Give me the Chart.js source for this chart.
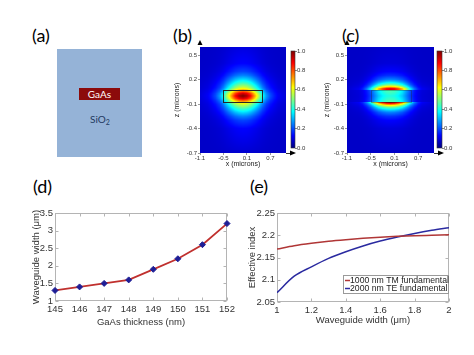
<!DOCTYPE html>
<html><head><meta charset="utf-8">
<script src="https://cdn.jsdelivr.net/npm/chart.js@4.4.1/dist/chart.umd.min.js"></script>
<style>
html,body{margin:0;padding:0;background:#fff}
#wrap{position:relative;width:474px;height:355px;overflow:hidden;background:#fff}
#wrap canvas{position:absolute}
.plab{position:absolute;font-family:Lato,"Open Sans",sans-serif;font-size:18px;line-height:18px;color:#000}
#sio2box{position:absolute;left:57px;top:49px;width:85px;height:108px;background:#95b3d7}
#gaas{position:absolute;left:79px;top:88px;width:41px;height:12px;background:#8c0b0b;color:#fff;font-family:Lato,sans-serif;font-size:10px;line-height:12px;text-align:center}
#sio2{position:absolute;left:80px;top:113px;width:40px;text-align:center;font-family:Lato,sans-serif;font-size:10px;line-height:12px;color:#1f3a60}
#sio2 sub{font-size:7px;vertical-align:-2px;line-height:0}
</style></head><body>
<div id="wrap">
<div class="plab" style="left:32px;top:26px">(a)</div>
<div class="plab" style="left:173px;top:26px">(b)</div>
<div class="plab" style="left:342px;top:26px">(c)</div>
<div class="plab" style="left:33px;top:177px">(d)</div>
<div class="plab" style="left:250px;top:177px">(e)</div>
<div id="sio2box"></div>
<div id="gaas">GaAs</div>
<div id="sio2">SiO<sub>2</sub></div>
<canvas id="cb" width="150" height="140" style="left:160px;top:30px"></canvas>
<canvas id="cbBar" width="30" height="120" style="left:280px;top:40px"></canvas>
<canvas id="cc" width="150" height="140" style="left:310px;top:30px"></canvas>
<canvas id="ccBar" width="30" height="120" style="left:426px;top:40px"></canvas>
<canvas id="cd" width="240" height="135" style="left:0px;top:200px"></canvas>
<canvas id="ce" width="234" height="135" style="left:240px;top:200px"></canvas>
</div>
<script>
const FONT = '"Liberation Sans", Arial, sans-serif';
Chart.defaults.font.family = FONT;
Chart.defaults.animation = false;

// ---- panel (d) data ----
const gaasThicknessNm = [145, 146, 147, 148, 149, 150, 151, 152];
const waveguideWidthUm = [1.3, 1.4, 1.5, 1.6, 1.9, 2.2, 2.6, 3.2];
const dTicksX = [145, 146, 147, 148, 149, 150, 151, 152];
const dTicksY = [1, 1.5, 2, 2.5, 3, 3.5];

// ---- panel (e) data ----
const wgWidthUm = [1.0, 1.1, 1.2, 1.3, 1.4, 1.5, 1.6, 1.7, 1.8, 1.9, 2.0];
const neffTM1000 = [2.169, 2.1765, 2.182, 2.1865, 2.19, 2.193, 2.1955, 2.1975, 2.199, 2.2, 2.201];
const neffTE2000 = [2.071, 2.108, 2.129, 2.148, 2.163, 2.176, 2.187, 2.196, 2.204, 2.211, 2.217];
const eTicksX = [1, 1.2, 1.4, 1.6, 1.8, 2];
const eTicksY = [2.05, 2.1, 2.15, 2.2, 2.25];

// ---- panels (b),(c) mode maps ----
const modeTicksX = [-1.1, -0.5, 0.1, 0.7];
const modeTicksZ = [-0.7, -0.4, -0.1, 0.2, 0.5];
const colorbarTicks = [0, 0.2, 0.4, 0.6, 0.8, 1];
const guideEdgesX = [-0.5, 0.5];
const guideEdgesZ = [-0.075, 0.075];
// intensity profiles: distance from centre (microns) -> normalised value
const teDistX = [0, 0.1, 0.2, 0.25, 0.3, 0.4, 0.5, 0.6, 0.7, 0.8, 0.9, 1.1];
const teProfX = [1, 0.96, 0.86, 0.78, 0.7, 0.53, 0.35, 0.22, 0.14, 0.09, 0.05, 0.02];
const teDistZ = [0, 0.03, 0.055, 0.075, 0.1, 0.15, 0.2, 0.25, 0.3, 0.4, 0.7];
const teProfZ = [1, 0.92, 0.78, 0.68, 0.56, 0.42, 0.3, 0.2, 0.13, 0.06, 0.01];
const tmDistX = [0, 0.1, 0.2, 0.3, 0.4, 0.5, 0.6, 0.7, 0.8, 1.1];
const tmProfX = [1, 0.97, 0.88, 0.75, 0.55, 0.35, 0.2, 0.1, 0.05, 0.01];
const tmDistZ = [0, 0.07, 0.075, 0.08, 0.1, 0.12, 0.14, 0.17, 0.2, 0.25, 0.3, 0.4, 0.7];
const tmProfZ = [0.36, 0.42, 0.6, 1, 0.78, 0.58, 0.44, 0.3, 0.2, 0.11, 0.06, 0.02, 0];
const fieldFloor = 0.07;

function lerpProfile(ds, ps, d) {
  d = Math.abs(d);
  for (let i = 1; i < ds.length; i++) {
    if (d <= ds[i]) {
      const t = (d - ds[i - 1]) / (ds[i] - ds[i - 1]);
      return ps[i - 1] + t * (ps[i] - ps[i - 1]);
    }
  }
  return ps[ps.length - 1];
}
function jet(v) {
  const c = q => Math.max(0, Math.min(1, q));
  return [c(1.5 - Math.abs(4 * v - 3)), c(1.5 - Math.abs(4 * v - 2)), c(1.5 - Math.abs(4 * v - 1))].map(q => Math.round(q * 255));
}

function fieldPlugin(dx, px, dz, pz, outlineAlpha) {
  return {
    id: 'field',
    beforeDatasetsDraw(chart) {
      const {ctx, chartArea: a, scales: {x, y}} = chart;
      const L = Math.round(a.left), T = Math.round(a.top);
      const W = Math.round(a.right) - L, H = Math.round(a.bottom) - T;
      const off = document.createElement('canvas');
      off.width = W; off.height = H;
      const octx = off.getContext('2d');
      const img = octx.createImageData(W, H);
      for (let j = 0; j < H; j++) {
        const fz = lerpProfile(dz, pz, y.getValueForPixel(T + j + 0.5));
        for (let i = 0; i < W; i++) {
          const fx = lerpProfile(dx, px, x.getValueForPixel(L + i + 0.5));
          const [r, g, b] = jet(fieldFloor + (1 - fieldFloor) * fx * fz);
          const k = 4 * (j * W + i);
          img.data[k] = r; img.data[k + 1] = g; img.data[k + 2] = b; img.data[k + 3] = 255;
        }
      }
      octx.putImageData(img, 0, 0);
      ctx.drawImage(off, L, T);
    },
    afterDraw(chart) {
      const {ctx, chartArea: a, scales: {x, y}} = chart;
      ctx.save();
      // waveguide outline
      const gx0 = x.getPixelForValue(guideEdgesX[0]), gx1 = x.getPixelForValue(guideEdgesX[1]);
      const gz0 = y.getPixelForValue(guideEdgesZ[1]), gz1 = y.getPixelForValue(guideEdgesZ[0]);
      ctx.globalAlpha = outlineAlpha;
      ctx.strokeStyle = '#262626';
      ctx.lineWidth = 1;
      ctx.strokeRect(Math.round(gx0) + 0.5, Math.round(gz0) + 0.5, Math.round(gx1 - gx0), Math.round(gz1 - gz0));
      ctx.globalAlpha = 1;
      // axis arrows
      ctx.fillStyle = '#000';
      ctx.strokeStyle = '#000';
      const L = Math.round(a.left), B = Math.round(a.bottom), R = Math.round(a.right), T = Math.round(a.top);
      ctx.beginPath(); ctx.moveTo(L, T - 7); ctx.lineTo(L - 2.5, T - 2); ctx.lineTo(L + 2.5, T - 2); ctx.closePath(); ctx.fill();
      ctx.beginPath(); ctx.moveTo(R, B + 0.5); ctx.lineTo(R + 5, B + 0.5); ctx.lineWidth = 0.8; ctx.stroke();
      ctx.beginPath(); ctx.moveTo(R + 10, B); ctx.lineTo(R + 4, B - 2.5); ctx.lineTo(R + 4, B + 2.5); ctx.closePath(); ctx.fill();
      ctx.restore();
    }
  };
}

function modeMap(id, yAxisW, titlePad, rightPad, plugin) {
  return new Chart(document.getElementById(id), {
    type: 'scatter',
    data: {datasets: []},
    options: {
      responsive: false, animation: false, events: [],
      layout: {padding: {left: 0, top: 17, right: rightPad, bottom: 0}},
      plugins: {legend: {display: false}, tooltip: {enabled: false}},
      scales: {
        x: {
          type: 'linear', min: -1.1, max: 1.1,
          afterBuildTicks: s => { s.ticks = modeTicksX.map(v => ({value: v})); },
          afterFit: s => { s.height = 17; },
          grid: {display: true, drawOnChartArea: false, drawTicks: true, tickLength: 2, color: '#555', lineWidth: 0.6},
          border: {display: false},
          ticks: {font: {size: 6}, color: '#333', padding: 0, maxRotation: 0, autoSkip: false, callback: v => v.toFixed(1)},
          title: {display: true, text: 'x (microns)', font: {size: 7}, color: '#222', padding: {top: 0, bottom: 2}}
        },
        y: {
          type: 'linear', min: -0.7, max: 0.6,
          afterBuildTicks: s => { s.ticks = modeTicksZ.map(v => ({value: v})); },
          afterFit: s => { s.width = yAxisW; },
          grid: {display: true, drawOnChartArea: false, drawTicks: true, tickLength: 2, color: '#555', lineWidth: 0.6},
          border: {display: false},
          ticks: {font: {size: 6}, color: '#333', padding: 1, autoSkip: false, callback: v => v.toFixed(1)},
          title: {display: true, text: 'z (microns)', font: {size: 7}, color: '#222', padding: {top: titlePad, bottom: 0}}
        }
      }
    },
    plugins: [plugin]
  });
}

const colorbarPlugin = {
  id: 'cbar',
  beforeDatasetsDraw(chart) {
    const {ctx, chartArea: a, scales: {y}} = chart;
    const g = ctx.createLinearGradient(0, y.getPixelForValue(0), 0, y.getPixelForValue(1));
    for (let s = 0; s <= 32; s++) {
      const v = s / 32;
      const [r, gg, b] = jet(v);
      g.addColorStop(v, `rgb(${r},${gg},${b})`);
    }
    ctx.save();
    ctx.fillStyle = g;
    ctx.fillRect(a.left, a.top, a.right - a.left, a.bottom - a.top);
    ctx.strokeStyle = '#333'; ctx.lineWidth = 0.6;
    ctx.strokeRect(a.left, a.top, a.right - a.left, a.bottom - a.top);
    ctx.restore();
  }
};

function colorbar(id, axisW) {
  return new Chart(document.getElementById(id), {
    type: 'scatter',
    data: {datasets: []},
    options: {
      responsive: false, animation: false, events: [],
      layout: {padding: {left: 11, top: 11, right: 0, bottom: 12}},
      plugins: {legend: {display: false}, tooltip: {enabled: false}},
      scales: {
        x: {display: false, min: 0, max: 1},
        y: {
          position: 'right', min: 0, max: 1,
          afterBuildTicks: s => { s.ticks = colorbarTicks.map(v => ({value: v})); },
          afterFit: s => { s.width = axisW; },
          grid: {display: true, drawOnChartArea: false, drawTicks: true, tickLength: 2, color: '#333', lineWidth: 0.6},
          border: {display: false},
          ticks: {font: {size: 6}, color: '#333', padding: 0, autoSkip: false, callback: v => v.toFixed(1)}
        }
      }
    },
    plugins: [colorbarPlugin]
  });
}

modeMap('cb', 40, 13, 24, fieldPlugin(teDistX, teProfX, teDistZ, teProfZ, 1));
colorbar('cbBar', 15);
modeMap('cc', 37, 13, 26, fieldPlugin(tmDistX, tmProfX, tmDistZ, tmProfZ, 0.35));
colorbar('ccBar', 14);

// ---- framed MATLAB-style axes ----
const framePlugin = {
  id: 'frame',
  beforeDatasetsDraw(chart) {
    const {ctx, chartArea: a, scales: {x, y}} = chart;
    const L = Math.round(a.left) + 0.5, R = Math.round(a.right) - 0.5;
    const T = Math.round(a.top) + 0.5, B = Math.round(a.bottom) - 0.5;
    ctx.save();
    ctx.strokeStyle = '#b4b4b4'; ctx.lineWidth = 1;
    ctx.strokeRect(L, T, R - L, B - T);
    ctx.beginPath();
    x.ticks.forEach(t => {
      const p = Math.round(x.getPixelForValue(t.value)) + 0.5;
      ctx.moveTo(p, B); ctx.lineTo(p, B - 3);
      ctx.moveTo(p, T); ctx.lineTo(p, T + 3);
    });
    y.ticks.forEach(t => {
      const p = Math.round(y.getPixelForValue(t.value)) + 0.5;
      ctx.moveTo(L, p); ctx.lineTo(L + 3, p);
      ctx.moveTo(R, p); ctx.lineTo(R - 3, p);
    });
    ctx.stroke();
    ctx.restore();
  }
};

function axisOpts(min, max, ticks, size, title, titlePad) {
  return {
    type: 'linear', min, max,
    afterBuildTicks: s => { s.ticks = ticks.map(v => ({value: v})); },
    grid: {display: false, drawTicks: false},
    border: {display: false},
    ticks: {font: {size: 9.5}, color: '#333', padding: 3, maxRotation: 0, autoSkip: false, callback: v => String(v)},
    title: {display: true, text: title, font: {size: 9.5}, color: '#333', padding: titlePad}
  };
}

// (d)
{
  const xo = axisOpts(145, 152, dTicksX, 34, 'GaAs thickness (nm)', {top: 0, bottom: 7});
  xo.afterFit = s => { s.height = 34; };
  const yo = axisOpts(1, 3.5, dTicksY, 55, 'Waveguide width (μm)', {top: 31, bottom: 0});
  yo.afterFit = s => { s.width = 55; };
  yo.ticks.padding = 2;
  new Chart(document.getElementById('cd'), {
    type: 'line',
    data: {datasets: [{
      data: gaasThicknessNm.map((t, i) => ({x: t, y: waveguideWidthUm[i]})),
      borderColor: '#c0302e', borderWidth: 1.8,
      pointStyle: 'rectRot', pointRadius: 3, pointBackgroundColor: '#1e1e96', pointBorderColor: '#1e1e96', pointBorderWidth: 1,
      clip: false, tension: 0
    }]},
    options: {
      responsive: false, animation: false, events: [],
      layout: {padding: {left: 0, top: 13, right: 13, bottom: 0}},
      plugins: {legend: {display: false}, tooltip: {enabled: false}},
      scales: {x: xo, y: yo}
    },
    plugins: [framePlugin]
  });
}

// (e)
const insetLegend = {
  id: 'insetLegend',
  afterDraw(chart) {
    const {ctx, chartArea: a} = chart;
    const w = 106, h = 19;
    const L = Math.round(a.right) - w, T = Math.round(a.bottom) - 27;
    ctx.save();
    ctx.fillStyle = '#fff'; ctx.fillRect(L, T, w, h);
    ctx.strokeStyle = '#9a9a9a'; ctx.lineWidth = 1; ctx.strokeRect(L + 0.5, T + 0.5, w - 1, h - 1);
    ctx.font = `8.7px ${FONT}`; ctx.textBaseline = 'middle';
    chart.data.datasets.forEach((ds, i) => {
      const yy = T + 5.5 + i * 8;
      ctx.strokeStyle = ds.borderColor; ctx.lineWidth = 1.5;
      ctx.beginPath(); ctx.moveTo(L + 2, yy); ctx.lineTo(L + 7, yy); ctx.stroke();
      ctx.fillStyle = '#222'; ctx.fillText(ds.label, L + 7, yy);
    });
    ctx.restore();
  }
};
{
  const xo = axisOpts(1, 2, eTicksX, 33, 'Waveguide width (μm)', {top: 0, bottom: 9});
  xo.afterFit = s => { s.height = 33; };
  const yo = axisOpts(2.05, 2.25, eTicksY, 37, 'Effective index', {top: 7, bottom: 0});
  yo.afterFit = s => { s.width = 37; };
  yo.ticks.padding = 2;
  new Chart(document.getElementById('ce'), {
    type: 'line',
    data: {datasets: [
      {label: '1000 nm TM fundamental', data: wgWidthUm.map((w, i) => ({x: w, y: neffTM1000[i]})),
       borderColor: '#b03636', borderWidth: 1.5, pointRadius: 0, cubicInterpolationMode: 'monotone'},
      {label: '2000 nm TE fundamental', data: wgWidthUm.map((w, i) => ({x: w, y: neffTE2000[i]})),
       borderColor: '#2a2aa0', borderWidth: 1.5, pointRadius: 0, cubicInterpolationMode: 'monotone'}
    ]},
    options: {
      responsive: false, animation: false, events: [],
      layout: {padding: {left: 0, top: 13, right: 25, bottom: 0}},
      plugins: {legend: {display: false}, tooltip: {enabled: false}},
      scales: {x: xo, y: yo}
    },
    plugins: [framePlugin, insetLegend]
  });
}
</script>
</body></html>
